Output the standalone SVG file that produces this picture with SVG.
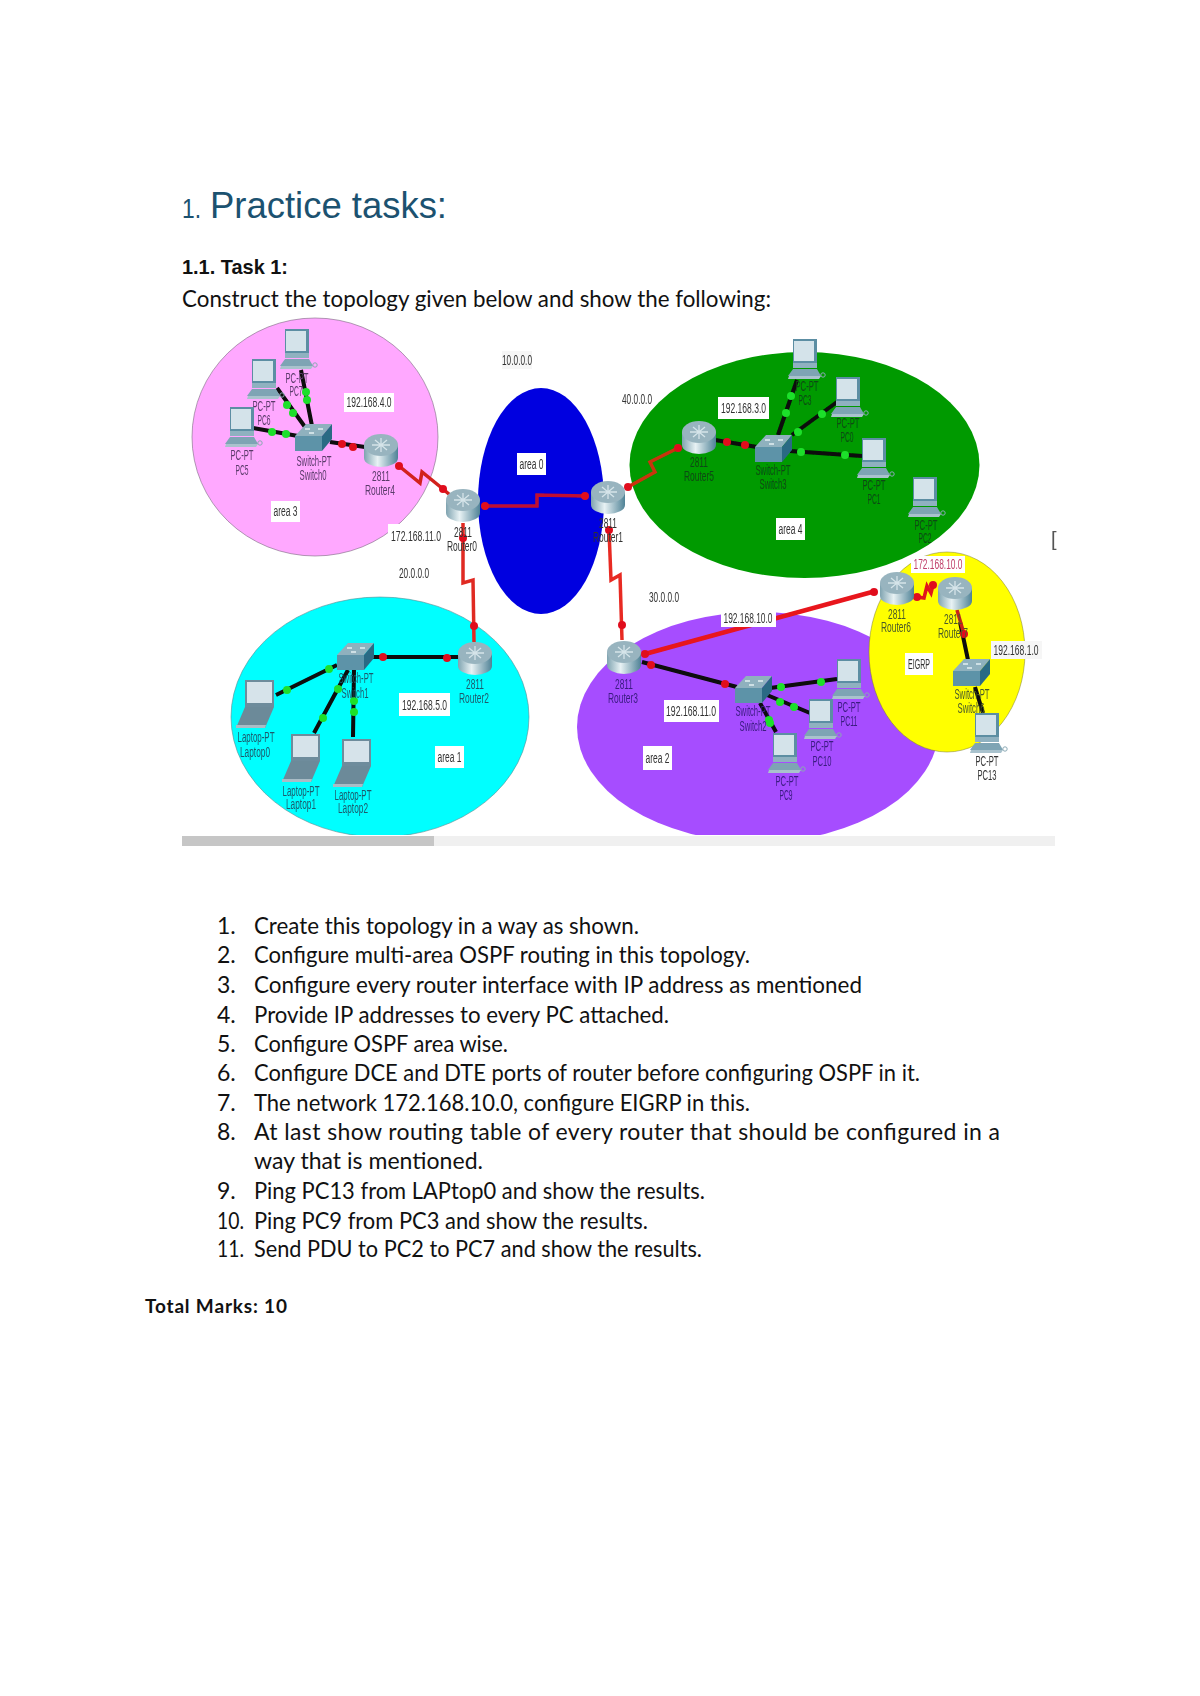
<svg xmlns="http://www.w3.org/2000/svg" width="1200" height="1696" viewBox="0 0 1200 1696">
<style>
.t{font-family:"Lato","Liberation Sans",sans-serif;font-size:23px;fill:#111}
.b{font-family:"Liberation Sans",Arial,sans-serif;font-weight:700;font-size:21px;fill:#111}
.h{font-family:"Liberation Sans",Arial,sans-serif;fill:#1c5270}
.l{font-family:"Liberation Sans",Arial,sans-serif;font-size:14px;text-anchor:middle;fill:#333}
.pk{fill:#5a3a6a}.gn{fill:#0c4a12}.cy{fill:#1d5a6c}.pu{fill:#3a1c80}.ye{fill:#4a5a2a}
.box{fill:#fff}.fbox{fill:#f6f6f6}
.wire{fill:none;stroke:#0a0a0a;stroke-width:4}
.ser{fill:none;stroke:#d2201f;stroke-width:3.500}
.rd{fill:#e0101e}.gd{fill:#1fe02a}
</style>
<defs>
<filter id="soft" x="-2%" y="-2%" width="104%" height="104%"><feGaussianBlur stdDeviation="0.7"/></filter>
<clipPath id="clip"><rect x="182" y="310" width="873" height="525"/></clipPath>
<linearGradient id="rg" x1="0" x2="1" y1="0" y2="0"><stop offset="0" stop-color="#7fa3b0"/><stop offset=".4" stop-color="#e8f2f4"/><stop offset="1" stop-color="#4f8296"/></linearGradient>
<g id="router">
<path d="M-17,-5V8A17,9 0 0 0 17,8V-5Z" fill="url(#rg)"/>
<ellipse cx="0" cy="-5" rx="17" ry="11" fill="#98b4bf"/>
<path d="M-9,-5H9M0,-12V2M-6,-10L6,0M6,-10L-6,0" stroke="#d5e4e9" stroke-width="1.300"/>
</g>
<g id="switch">
<polygon points="-18,-2 -7,-14 19,-14 9,-2" fill="#8fb1be"/>
<rect x="-18" y="-2" width="27" height="15" fill="#5d93a8"/>
<polygon points="9,-2 19,-14 19,1 9,13" fill="#2c6b84"/>
<path d="M-8,-9h5M5,-9h5M-4,-5h5" stroke="#e4eff2" stroke-width="1.500"/>
</g>
<g id="pc">
<rect x="-11" y="-24" width="24" height="24" fill="#5b8ea3"/>
<rect x="-10" y="-22" width="20" height="20" fill="#d4e3ea"/>
<rect x="-11" y="0" width="24" height="5" fill="#8fb1c0"/>
<polygon points="-11,6 13,6 17,13 -16,13" fill="#7ea4b4"/>
<polygon points="-15,13 17,13 15,16 -16,16" fill="#a9c2cd"/>
<circle cx="19" cy="12" r="2.200" fill="none" stroke="#8aa8b4"/>
</g>
<g id="laptop">
<rect x="-12" y="-24" width="29" height="27" fill="#6e8c9c"/>
<rect x="-10" y="-22" width="25" height="21" fill="#d6e3ea"/>
<polygon points="-12,3 17,3 8,24 -21,24" fill="#6c8a99"/>
<polygon points="-21,21 9,21 8,24 -21,24" fill="#a9bcc6"/>
</g>
</defs>

<rect width="1200" height="1696" fill="#fff"/>

<g id="heading">
<text class="h" x="182" y="218" font-size="27" textLength="19" lengthAdjust="spacingAndGlyphs">1.</text>
<text class="h" x="210" y="218" font-size="37" textLength="237" lengthAdjust="spacingAndGlyphs">Practice tasks:</text>
<text class="b" x="182" y="274" textLength="106" lengthAdjust="spacingAndGlyphs">1.1. Task 1:</text>
<text class="t" x="182" y="307" textLength="589" lengthAdjust="spacingAndGlyphs">Construct the topology given below and show the following:</text>
</g>

<g id="topology" filter="url(#soft)">
<g id="areas" clip-path="url(#clip)">
<ellipse id="area3-shape" cx="315" cy="437" rx="123" ry="119" fill="#ffa8ff" stroke="#7a6a80" stroke-width="0.600"/>
<ellipse id="area0-shape" cx="541" cy="501" rx="63" ry="113" fill="#0000e0"/>
<ellipse id="area4-shape" cx="804.500" cy="465" rx="175" ry="113" fill="#009a00"/>
<ellipse id="area1-shape" cx="380" cy="717" rx="149" ry="120" fill="#00ffff" stroke="#5a8a90" stroke-width="0.600"/>
<ellipse id="area2-shape" cx="758" cy="727" rx="181" ry="115" fill="#a64dff"/>
<ellipse id="eigrp-shape" cx="947" cy="652" rx="78" ry="100" fill="#ffff00" stroke="#7a7a30" stroke-width="0.500"/>
<rect class="box" x="388" y="524" width="55" height="22"/>
</g>

<g id="connectors">
<path class="ser" d="M399,466L420,483L422,472L443,489L450,495"/>
<path class="ser" d="M485,506H537V495L585,496" style="stroke:#c00c30"/>
<path class="ser" d="M463,523V583L473,580L474,642" style="stroke:#e02a24"/>
<path class="ser" d="M628,487L655,472L650,462L678,448" style="stroke:#c8340c"/>
<path class="ser" d="M609,530L611,580L620,575L622,640" style="stroke:#e82a24"/>
<path class="ser" d="M645,654L872,592" style="stroke:#e8141e;stroke-width:4.500"/>
<path class="ser" d="M917,597L924,598L927,586L931,593L933,585" style="stroke:#e0141e"/>
<path class="wire" d="M642,662L737,687M770,688L837,679M767,695L810,713M760,703L776,732"/>
<path class="wire" d="M373,657H458M337,665L276,695M348,670L314,733M354,668L353,737"/>
<path class="wire" d="M330,442L365,447M253,428L298,436M277,388L305,427M301,370L312,426"/>
<path class="wire" d="M715,440L757,447M797,380L778,435M837,402L792,435M790,451L862,456"/>
<path class="wire" d="M960,622L968,660M975,687L983,713"/>
<path class="ser" d="M957,610L964,634" style="stroke:#c8201c"/>
<g class="rd">
<circle cx="399" cy="466" r="4"/><circle cx="443" cy="489" r="4"/>
<circle cx="485" cy="506" r="4"/><circle cx="585" cy="496" r="4"/>
<circle cx="463" cy="538" r="4"/><circle cx="474" cy="626" r="4"/>
<circle cx="628" cy="487" r="4"/><circle cx="678" cy="448" r="4"/>
<circle cx="609" cy="530" r="4"/><circle cx="622" cy="625" r="4"/>
<circle cx="645" cy="654" r="4"/><circle cx="874" cy="592" r="4"/>
<circle cx="917" cy="597" r="4"/><circle cx="933" cy="585" r="4"/>
<circle cx="964" cy="634" r="4"/>
<circle cx="651" cy="665" r="4"/><circle cx="725" cy="684" r="4"/>
<circle cx="383" cy="657" r="4"/><circle cx="447" cy="658" r="4"/>
<circle cx="342" cy="444" r="4"/><circle cx="353" cy="447" r="4"/>
<circle cx="727" cy="442" r="4"/><circle cx="745" cy="445" r="4"/>
</g>
<g class="gd">
<circle cx="781" cy="687" r="4"/><circle cx="821" cy="682" r="4"/>
<circle cx="780" cy="702" r="4"/><circle cx="794" cy="707" r="4"/>
<circle cx="769" cy="720" r="4"/><circle cx="770" cy="723" r="4"/>
<circle cx="329" cy="669" r="4"/><circle cx="287" cy="690" r="4"/>
<circle cx="338" cy="689" r="4"/><circle cx="323" cy="718" r="4"/>
<circle cx="354" cy="701" r="4"/><circle cx="354" cy="712" r="4"/>
<circle cx="272" cy="432" r="4"/><circle cx="286" cy="434" r="4"/>
<circle cx="287" cy="405" r="4"/><circle cx="293" cy="413" r="4"/>
<circle cx="306" cy="392" r="4"/><circle cx="307" cy="400" r="4"/>
<circle cx="791" cy="396" r="4"/><circle cx="786" cy="413" r="4"/>
<circle cx="822" cy="414" r="4"/><circle cx="798" cy="432" r="4"/>
<circle cx="801" cy="452" r="4"/><circle cx="845" cy="455" r="4"/>
</g>
</g>

<g id="Router4"><use href="#router" x="381" y="450"/><text class="l pk" x="381" y="481" textLength="18" lengthAdjust="spacingAndGlyphs">2811</text><text class="l pk" x="380" y="495" textLength="30" lengthAdjust="spacingAndGlyphs">Router4</text></g>
<g id="Router0"><use href="#router" x="463" y="505"/><text class="l" x="463" y="537" textLength="18" lengthAdjust="spacingAndGlyphs">2811</text><text class="l" x="462" y="551" textLength="30" lengthAdjust="spacingAndGlyphs">Router0</text></g>
<g id="Router1"><use href="#router" x="608" y="497"/><text class="l" x="608" y="528" textLength="18" lengthAdjust="spacingAndGlyphs">2811</text><text class="l" x="608" y="542" textLength="30" lengthAdjust="spacingAndGlyphs">Router1</text></g>
<g id="Router5"><use href="#router" x="699" y="437"/><text class="l gn" x="699" y="467" textLength="18" lengthAdjust="spacingAndGlyphs">2811</text><text class="l gn" x="699" y="481" textLength="30" lengthAdjust="spacingAndGlyphs">Router5</text></g>
<g id="Router3"><use href="#router" x="624" y="657"/><text class="l pu" x="624" y="689" textLength="18" lengthAdjust="spacingAndGlyphs">2811</text><text class="l pu" x="623" y="703" textLength="30" lengthAdjust="spacingAndGlyphs">Router3</text></g>
<g id="Router6"><use href="#router" x="897" y="588"/><text class="l ye" x="897" y="619" textLength="18" lengthAdjust="spacingAndGlyphs">2811</text><text class="l ye" x="896" y="632" textLength="30" lengthAdjust="spacingAndGlyphs">Router6</text></g>
<g id="Router7"><use href="#router" x="955" y="593"/><text class="l ye" x="953" y="624" textLength="18" lengthAdjust="spacingAndGlyphs">2811</text><text class="l ye" x="953" y="638" textLength="30" lengthAdjust="spacingAndGlyphs">Router7</text></g>
<g id="Router2"><use href="#router" x="475" y="658"/><text class="l cy" x="475" y="689" textLength="18" lengthAdjust="spacingAndGlyphs">2811</text><text class="l cy" x="474" y="703" textLength="30" lengthAdjust="spacingAndGlyphs">Router2</text></g>

<g id="Switch0"><use href="#switch" x="313" y="438"/><text class="l pk" x="314" y="466" textLength="35" lengthAdjust="spacingAndGlyphs">Switch-PT</text><text class="l pk" x="313" y="480" textLength="27" lengthAdjust="spacingAndGlyphs">Switch0</text></g>
<g id="Switch3"><use href="#switch" x="773" y="449"/><text class="l gn" x="773" y="475" textLength="35" lengthAdjust="spacingAndGlyphs">Switch-PT</text><text class="l gn" x="773" y="489" textLength="27" lengthAdjust="spacingAndGlyphs">Switch3</text></g>
<g id="Switch1"><use href="#switch" x="355" y="657"/><text class="l cy" x="356" y="683" textLength="35" lengthAdjust="spacingAndGlyphs">Switch-PT</text><text class="l cy" x="355" y="698" textLength="27" lengthAdjust="spacingAndGlyphs">Switch1</text></g>
<g id="Switch2"><use href="#switch" x="753" y="690"/><text class="l pu" x="753" y="716" textLength="35" lengthAdjust="spacingAndGlyphs">Switch-PT</text><text class="l pu" x="753" y="731" textLength="27" lengthAdjust="spacingAndGlyphs">Switch2</text></g>
<g id="Switch6"><use href="#switch" x="971" y="673"/><text class="l ye" x="972" y="699" textLength="35" lengthAdjust="spacingAndGlyphs">Switch-PT</text><text class="l ye" x="971" y="713" textLength="27" lengthAdjust="spacingAndGlyphs">Switch6</text></g>

<g id="PC7"><use href="#pc" x="296" y="353"/><text class="l pk" x="297" y="383" textLength="23" lengthAdjust="spacingAndGlyphs">PC-PT</text><text class="l pk" x="296" y="396" textLength="13" lengthAdjust="spacingAndGlyphs">PC7</text></g>
<g id="PC6"><use href="#pc" x="263" y="383"/><text class="l pk" x="264" y="411" textLength="23" lengthAdjust="spacingAndGlyphs">PC-PT</text><text class="l pk" x="264" y="425" textLength="13" lengthAdjust="spacingAndGlyphs">PC6</text></g>
<g id="PC5"><use href="#pc" x="241" y="431"/><text class="l pk" x="242" y="460" textLength="23" lengthAdjust="spacingAndGlyphs">PC-PT</text><text class="l pk" x="242" y="475" textLength="13" lengthAdjust="spacingAndGlyphs">PC5</text></g>
<g id="PC3"><use href="#pc" x="804" y="363"/><text class="l gn" x="807" y="391" textLength="23" lengthAdjust="spacingAndGlyphs">PC-PT</text><text class="l gn" x="805" y="405" textLength="13" lengthAdjust="spacingAndGlyphs">PC3</text></g>
<g id="PC0"><use href="#pc" x="847" y="401"/><text class="l gn" x="848" y="428" textLength="23" lengthAdjust="spacingAndGlyphs">PC-PT</text><text class="l gn" x="847" y="442" textLength="13" lengthAdjust="spacingAndGlyphs">PC0</text></g>
<g id="PC1"><use href="#pc" x="873" y="462"/><text class="l gn" x="874" y="490" textLength="23" lengthAdjust="spacingAndGlyphs">PC-PT</text><text class="l gn" x="874" y="504" textLength="13" lengthAdjust="spacingAndGlyphs">PC1</text></g>
<g id="PC2"><use href="#pc" x="924" y="501"/><text class="l gn" x="926" y="530" textLength="23" lengthAdjust="spacingAndGlyphs">PC-PT</text><text class="l gn" x="925" y="543" textLength="13" lengthAdjust="spacingAndGlyphs">PC2</text></g>
<g id="PC11"><use href="#pc" x="848" y="683"/><text class="l pu" x="849" y="712" textLength="23" lengthAdjust="spacingAndGlyphs">PC-PT</text><text class="l pu" x="849" y="726" textLength="17" lengthAdjust="spacingAndGlyphs">PC11</text></g>
<g id="PC10"><use href="#pc" x="820" y="723"/><text class="l pu" x="822" y="751" textLength="23" lengthAdjust="spacingAndGlyphs">PC-PT</text><text class="l pu" x="822" y="766" textLength="19" lengthAdjust="spacingAndGlyphs">PC10</text></g>
<g id="PC9"><use href="#pc" x="784" y="757"/><text class="l pu" x="787" y="786" textLength="23" lengthAdjust="spacingAndGlyphs">PC-PT</text><text class="l pu" x="786" y="800" textLength="13" lengthAdjust="spacingAndGlyphs">PC9</text></g>
<g id="PC13"><use href="#pc" x="986" y="737"/><text class="l" x="987" y="766" textLength="23" lengthAdjust="spacingAndGlyphs">PC-PT</text><text class="l" x="987" y="780" textLength="19" lengthAdjust="spacingAndGlyphs">PC13</text></g>

<g id="Laptop0"><use href="#laptop" x="257" y="704"/><text class="l cy" x="256" y="742" textLength="37" lengthAdjust="spacingAndGlyphs">Laptop-PT</text><text class="l cy" x="255" y="757" textLength="30" lengthAdjust="spacingAndGlyphs">Laptop0</text></g>
<g id="Laptop1"><use href="#laptop" x="303" y="758"/><text class="l cy" x="301" y="796" textLength="37" lengthAdjust="spacingAndGlyphs">Laptop-PT</text><text class="l cy" x="301" y="809" textLength="30" lengthAdjust="spacingAndGlyphs">Laptop1</text></g>
<g id="Laptop2"><use href="#laptop" x="354" y="763"/><text class="l cy" x="353" y="800" textLength="37" lengthAdjust="spacingAndGlyphs">Laptop-PT</text><text class="l cy" x="353" y="813" textLength="30" lengthAdjust="spacingAndGlyphs">Laptop2</text></g>

<g id="notes">
<rect class="box" x="344" y="393" width="50" height="19"/><text class="l" x="369" y="407" textLength="45" lengthAdjust="spacingAndGlyphs">192.168.4.0</text>
<rect class="box" x="271" y="501" width="29" height="21"/><text class="l" x="285.500" y="516" textLength="24" lengthAdjust="spacingAndGlyphs">area 3</text>
<rect class="fbox" x="502" y="351" width="30" height="18"/><text class="l" x="517" y="365" textLength="30" lengthAdjust="spacingAndGlyphs">10.0.0.0</text>
<rect class="box" x="517" y="453" width="29" height="22"/><text class="l" x="531.500" y="469" textLength="24" lengthAdjust="spacingAndGlyphs">area 0</text>
<text class="l" x="416" y="541" textLength="50" lengthAdjust="spacingAndGlyphs">172.168.11.0</text>
<text class="l" x="414" y="578" textLength="30" lengthAdjust="spacingAndGlyphs">20.0.0.0</text>
<text class="l" x="637" y="404" textLength="30" lengthAdjust="spacingAndGlyphs">40.0.0.0</text>
<rect class="box" x="718" y="397" width="51" height="22"/><text class="l" x="743.500" y="413" textLength="45" lengthAdjust="spacingAndGlyphs">192.168.3.0</text>
<rect class="box" x="776" y="518" width="29" height="22"/><text class="l" x="790.500" y="534" textLength="24" lengthAdjust="spacingAndGlyphs">area 4</text>
<text class="l" x="664" y="602" textLength="30" lengthAdjust="spacingAndGlyphs">30.0.0.0</text>
<rect class="box" x="911" y="556" width="54" height="17"/><text class="l" x="938" y="569" textLength="49" style="fill:#c0406a" lengthAdjust="spacingAndGlyphs">172.168.10.0</text>
<rect class="box" x="721" y="610" width="55" height="17"/><text class="l" x="748" y="623" textLength="49" lengthAdjust="spacingAndGlyphs">192.168.10.0</text>
<rect class="fbox" x="991" y="641" width="51" height="18"/><text class="l" x="1016" y="655" textLength="45" lengthAdjust="spacingAndGlyphs">192.168.1.0</text>
<rect class="box" x="905" y="653" width="28" height="22"/><text class="l" x="919" y="669" textLength="22" lengthAdjust="spacingAndGlyphs">EIGRP</text>
<rect class="box" x="664" y="700" width="55" height="22"/><text class="l" x="691" y="716" textLength="50" lengthAdjust="spacingAndGlyphs">192.168.11.0</text>
<rect class="box" x="643" y="746" width="29" height="24"/><text class="l" x="657.500" y="763" textLength="24" lengthAdjust="spacingAndGlyphs">area 2</text>
<rect class="box" x="399" y="693" width="51" height="23"/><text class="l" x="424.500" y="710" textLength="45" lengthAdjust="spacingAndGlyphs">192.168.5.0</text>
<rect class="box" x="435" y="746" width="29" height="22"/><text class="l" x="449.500" y="762" textLength="24" lengthAdjust="spacingAndGlyphs">area 1</text>
</g>

<g id="scrollbar">
<rect x="182" y="836" width="873" height="10" fill="#f0f0f0"/>
<rect x="182" y="836" width="252" height="10" fill="#c6c6c6"/>
</g>
<text x="1051" y="546" font-family="Liberation Sans, sans-serif" font-size="20" fill="#555">[</text>
</g>

<g id="tasks">
<text class="t" x="217" y="934">1.</text><text class="t" x="254" y="934" textLength="385" lengthAdjust="spacingAndGlyphs">Create this topology in a way as shown.</text>
<text class="t" x="217" y="963">2.</text><text class="t" x="254" y="963" textLength="496" lengthAdjust="spacingAndGlyphs">Configure multi-area OSPF routing in this topology.</text>
<text class="t" x="217" y="993">3.</text><text class="t" x="254" y="993" textLength="608" lengthAdjust="spacingAndGlyphs">Configure every router interface with IP address as mentioned</text>
<text class="t" x="217" y="1023">4.</text><text class="t" x="254" y="1023" textLength="415" lengthAdjust="spacingAndGlyphs">Provide IP addresses to every PC attached.</text>
<text class="t" x="217" y="1052">5.</text><text class="t" x="254" y="1052" textLength="254" lengthAdjust="spacingAndGlyphs">Configure OSPF area wise.</text>
<text class="t" x="217" y="1081">6.</text><text class="t" x="254" y="1081" textLength="666" lengthAdjust="spacingAndGlyphs">Configure DCE and DTE ports of router before configuring OSPF in it.</text>
<text class="t" x="217" y="1111">7.</text><text class="t" x="254" y="1111" textLength="496" lengthAdjust="spacingAndGlyphs">The network 172.168.10.0, configure EIGRP in this.</text>
<text class="t" x="217" y="1140">8.</text><text class="t" x="254" y="1140" textLength="746" lengthAdjust="spacing">At last show routing table of every router that should be configured in a</text>
<text class="t" x="254" y="1169" textLength="229" lengthAdjust="spacing">way that is mentioned.</text>
<text class="t" x="217" y="1199">9.</text><text class="t" x="254" y="1199" textLength="451" lengthAdjust="spacingAndGlyphs">Ping PC13 from LAPtop0 and show the results.</text>
<text class="t" x="217" y="1229" textLength="27" lengthAdjust="spacingAndGlyphs">10.</text><text class="t" x="254" y="1229" textLength="394" lengthAdjust="spacingAndGlyphs">Ping PC9 from PC3 and show the results.</text>
<text class="t" x="217" y="1257" textLength="27" lengthAdjust="spacingAndGlyphs">11.</text><text class="t" x="254" y="1257" textLength="448" lengthAdjust="spacingAndGlyphs">Send PDU to PC2 to PC7 and show the results.</text>
</g>
<text id="marks" x="145" y="1313" font-family="Lato, Liberation Sans, sans-serif" font-weight="700" font-size="19" fill="#111" textLength="142" lengthAdjust="spacing">Total Marks: 10</text>
</svg>
